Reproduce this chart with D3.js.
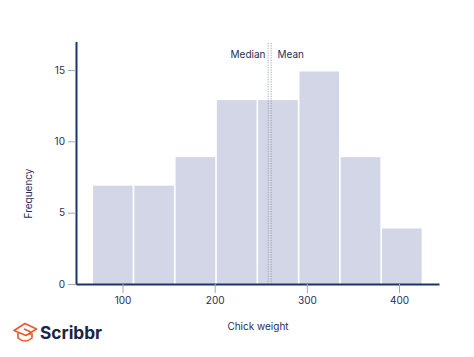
<!DOCTYPE html>
<html lang="en">
  <head>
    <meta charset="UTF-8" />
    <title>Chick weight histogram</title>
    <style>
      html, body { margin: 0; padding: 0; background: #fff; }
      svg { display: block; }
      text { font-family: Inter, "Open Sans", sans-serif; }
    </style>
  </head>
  <body>
    <svg id="svg" width="474" height="357"></svg>

    <script src="https://cdn.jsdelivr.net/npm/d3@7"></script>
    <script>
      const WIDTH = 474;
      const HEIGHT = 357;

      // histogram bins of chick weight
      const binStarts = [68, 112.8, 157.6, 202.4, 247.2, 292, 336.8, 381.6];
      const binWidth = 44.8;
      const frequencies = [7, 7, 9, 13, 13, 15, 9, 4];
      const xTicks = [100, 200, 300, 400];
      const yTicks = [0, 5, 10, 15];
      const medianValue = 258;
      const meanValue = 261.3;

      const NAVY = "#1c3568";
      const TEXT = "#1f2f55";
      const TICK = "#a3a8b5";

      const xScale = d3.scaleLinear().domain([49.5, 443.4]).range([76, 439]);
      const yScale = d3.scaleLinear().domain([0, 17]).range([284, 41.5]);

      const svg = d3.select("#svg");

      svg
        .append("g")
        .selectAll("rect")
        .data(binStarts)
        .enter()
        .append("rect")
        .attr("x", (d) => xScale(d))
        .attr("y", (d, i) => yScale(frequencies[i]) + 1.5)
        .attr("width", (d) => xScale(d + binWidth) - xScale(d) - 1.7)
        .attr("height", (d, i) => yScale(0) - yScale(frequencies[i]) - 1.5)
        .attr("fill", "#d3d6e6");

      // median and mean markers
      svg
        .append("g")
        .selectAll("line")
        .data([medianValue, meanValue])
        .enter()
        .append("line")
        .attr("x1", (d) => xScale(d))
        .attr("x2", (d) => xScale(d))
        .attr("y1", 43)
        .attr("y2", 284)
        .attr("stroke", "#8f94a8")
        .attr("stroke-width", 0.8)
        .attr("stroke-dasharray", "1.2 1.2");

      svg
        .append("text")
        .attr("x", 265.5)
        .attr("y", 58)
        .attr("text-anchor", "end")
        .attr("font-size", 10)
        .attr("fill", TEXT)
        .text("Median");
      svg
        .append("text")
        .attr("x", 277.5)
        .attr("y", 58)
        .attr("font-size", 10)
        .attr("fill", TEXT)
        .text("Mean");

      const bottomAxis = d3.axisBottom(xScale).tickValues(xTicks).tickSize(9).tickSizeOuter(0).tickPadding(4);
      const leftAxis = d3.axisLeft(yScale).tickValues(yTicks).tickSize(8).tickSizeOuter(0).tickPadding(3);

      const gx = svg.append("g").attr("transform", "translate(0, 284)").call(bottomAxis);
      const gy = svg.append("g").attr("transform", "translate(76, 0)").call(leftAxis);

      [gx, gy].forEach((g) => {
        g.selectAll(".tick line").attr("stroke", TICK);
        g.selectAll(".tick text")
          .attr("fill", TEXT)
          .style("font-family", "Inter, sans-serif")
          .style("font-size", "10px");
        g.select(".domain").attr("stroke", NAVY).attr("stroke-width", 2);
      });

      svg
        .append("text")
        .attr("x", 258)
        .attr("y", 330)
        .attr("text-anchor", "middle")
        .attr("font-size", 10)
        .attr("fill", TEXT)
        .text("Chick weight");

      svg
        .append("text")
        .attr("transform", "translate(32, 193.5) rotate(-90)")
        .attr("text-anchor", "middle")
        .attr("font-size", 10)
        .attr("fill", TEXT)
        .text("Frequency");

      // logo
      const logo = svg
        .append("g")
        .attr("fill", "none")
        .attr("stroke", "#e9582b")
        .attr("stroke-width", 1.6)
        .attr("stroke-linejoin", "round");
      logo.append("path").attr("d", "M14 330.5 L25 323.5 L36.5 329 L26 335.5 Z");
      logo.append("path").attr("d", "M18 333 L18 338 Q25 344 32 338 L32 333");
      logo.append("path").attr("d", "M24 329 L30 331.5 L30 335");

      svg
        .append("text")
        .attr("x", 40)
        .attr("y", 338.5)
        .attr("font-size", 17.3)
        .attr("font-weight", 700)
        .attr("fill", "#1a2547")
        .text("Scribbr");
    </script>
  </body>
</html>
